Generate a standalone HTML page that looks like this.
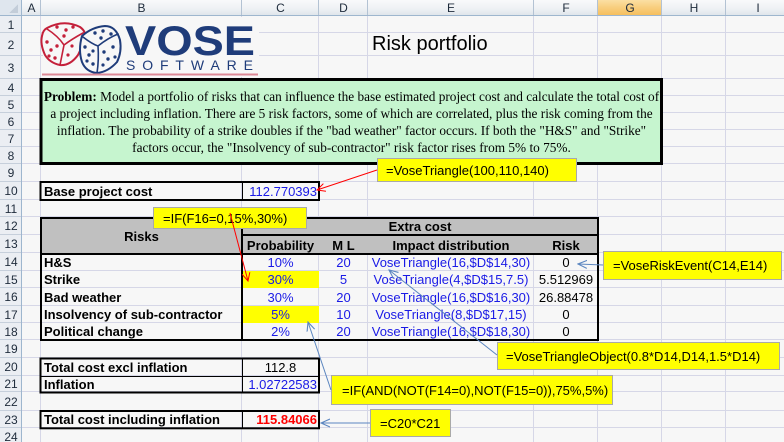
<!DOCTYPE html>
<html><head><meta charset="utf-8">
<style>
*{margin:0;padding:0;box-sizing:border-box}
html,body{width:784px;height:442px;overflow:hidden;background:#f7f7f7}
#s{position:relative;width:784px;height:442px;overflow:hidden;font-family:"Liberation Sans",Arial,sans-serif}
svg{position:absolute;left:0;top:0}
.t{position:absolute;font-size:13px;white-space:nowrap;color:#000;display:flex;align-items:center;line-height:1}
.b{font-weight:bold}
.c{justify-content:center}
.r{justify-content:flex-end}
.bl{color:#1a1ae6}
.h{position:absolute;top:0;height:16px;font-size:12px;color:#1e2b3b;display:flex;align-items:center;justify-content:center}
.rh{position:absolute;left:0;width:22px;font-size:12px;color:#1e2b3b;display:flex;align-items:center;justify-content:center}
.co{position:absolute;background:#ffff00;border:1px solid #a9a9a9;font-size:13px;color:#000;display:flex;align-items:center;white-space:nowrap}
.prob{position:absolute;left:41px;top:88px;width:621px;font-family:"Liberation Serif","Times New Roman",serif;font-size:13.3px;line-height:17px;text-align:center;color:#000;white-space:nowrap}
</style></head><body><div id="s">

<svg width="784" height="442">
<defs>
<linearGradient id="hg" x1="0" y1="0" x2="0" y2="1"><stop offset="0" stop-color="#f9fafb"/><stop offset="0.55" stop-color="#eef1f4"/><stop offset="1" stop-color="#dde4ea"/></linearGradient>
<linearGradient id="og" x1="0" y1="0" x2="0" y2="1"><stop offset="0" stop-color="#fbdfa4"/><stop offset="0.5" stop-color="#f8cd7c"/><stop offset="1" stop-color="#f5bd5a"/></linearGradient>
</defs>
<g shape-rendering="crispEdges">
<rect x="0" y="0" width="784" height="16" fill="url(#hg)"/>
<rect x="598" y="0" width="64" height="16" fill="url(#og)"/>
<rect x="0" y="0" width="22" height="16" fill="#dfe6ee"/>
<polygon points="18,4 18,13 9,13" fill="#c3cdd9"/>
<rect x="0" y="16" width="22" height="426" fill="#ebeef3"/>
<path d="M40.5 0V16M241.5 0V16M318.5 0V16M367.5 0V16M533.5 0V16M597.5 0V16M661.5 0V16M725.5 0V16" stroke="#b3c2d3" stroke-width="1"/>
<path d="M0 15.5H784" stroke="#9eb6ce" stroke-width="1"/>
<path d="M21.5 0V442" stroke="#9eb6ce" stroke-width="1"/>
<path d="M0 32.5H21M0 55.5H21M0 78.5H21M0 95.5H21M0 112.5H21M0 129.5H21M0 146.5H21M0 163.5H21M0 181.5H21M0 199.5H21M0 216.5H21M0 234.5H21M0 252.5H21M0 270.5H21M0 287.5H21M0 305.5H21M0 322.5H21M0 339.5H21M0 357.5H21M0 375.5H21M0 391.5H21M0 410.5H21M0 427.5H21" stroke="#c6cfdb" stroke-width="1"/>
<path d="M22 32.5H784M22 55.5H784M22 78.5H784M22 95.5H784M22 112.5H784M22 129.5H784M22 146.5H784M22 163.5H784M22 181.5H784M22 199.5H784M22 216.5H784M22 234.5H784M22 252.5H784M22 270.5H784M22 287.5H784M22 305.5H784M22 322.5H784M22 339.5H784M22 357.5H784M22 375.5H784M22 391.5H784M22 410.5H784M22 427.5H784" stroke="#d6d7e7" stroke-width="1"/>
<path d="M40.5 16V442M241.5 16V442M318.5 16V442M367.5 16V442M533.5 16V442M597.5 16V442M661.5 16V442M725.5 16V442" stroke="#d6d7e7" stroke-width="1"/>
<!-- logo background -->
<rect x="43" y="17" width="216" height="60" fill="#f7f7f7"/>
<!-- green box -->
<rect x="40" y="79" width="622" height="85" fill="#c6f5cf"/>
<!-- table header gray -->
<rect x="41" y="218" width="557" height="36" fill="#c0c0c0"/>
<!-- yellow cells -->
<rect x="243" y="271" width="76" height="17" fill="#ffff00"/>
<rect x="243" y="306" width="76" height="17" fill="#ffff00"/>
</g>

<!-- borders -->
<g fill="none" stroke="#000">
<rect x="41" y="79.5" width="620.5" height="84" stroke-width="3"/>
<rect x="41" y="218" width="557" height="122" stroke-width="2"/>
<path d="M242 235H598" stroke-width="2"/>
<path d="M41 254H598" stroke-width="2"/>
<path d="M242 218V340" stroke-width="2"/>
<rect x="40.5" y="182" width="278.5" height="18" stroke-width="2"/>
<path d="M242.5 182V200" stroke-width="1"/>
<rect x="40.5" y="358.5" width="278.5" height="34" stroke-width="2"/>
<path d="M41 376.5H319" stroke-width="1"/>
<path d="M242.5 358V392" stroke-width="1"/>
<rect x="40.5" y="411" width="278.5" height="17.3" stroke-width="2"/>
<path d="M242.5 411V428" stroke-width="1"/>
</g>

<!-- logo -->
<g fill="none" stroke-linecap="round" stroke-linejoin="round">
<path d="M47,28 Q64,19 80,27 Q87,32 85,40 L78,55 Q70,66 60,65 Q50,63 45,55 Q40,44 42,36 Q43,30 47,28 Z" stroke="#c4203a" stroke-width="2" fill="#f7f7f7"/>
<path d="M47,29 Q58,36 64,45 M64,45 Q72,39 83,33 M64,45 Q62,55 60,65" stroke="#c4203a" stroke-width="1.6"/>
<g fill="#c4203a" stroke="none">
<circle cx="57" cy="27" r="1.7"/><circle cx="66" cy="30" r="1.7"/><circle cx="73" cy="27" r="1.7"/><circle cx="64" cy="36" r="1.7"/>
<circle cx="47" cy="42" r="1.7"/><circle cx="51" cy="50" r="1.7"/><circle cx="55" cy="58" r="1.7"/><circle cx="57" cy="46" r="1.7"/><circle cx="49" cy="56" r="1.6"/>
<circle cx="72" cy="46" r="1.6"/><circle cx="68" cy="55" r="1.6"/>
</g>
<path d="M82,36 Q92,27 105,26 Q116,26 120,40 Q122,52 117,62 Q108,72 97,73 Q86,72 82,62 Q78,50 82,36 Z" stroke="#1f3c7a" stroke-width="2" fill="#f7f7f7"/>
<path d="M83,37 Q92,44 98,46 M98,46 Q108,38 118,34 M98,46 Q99,60 97,73" stroke="#1f3c7a" stroke-width="1.6"/>
<g fill="#1f3c7a" stroke="none">
<circle cx="95" cy="33" r="1.7"/><circle cx="103" cy="31" r="1.7"/><circle cx="111" cy="34" r="1.7"/><circle cx="101" cy="38" r="1.7"/>
<circle cx="85" cy="47" r="1.7"/><circle cx="89" cy="55" r="1.7"/><circle cx="93" cy="64" r="1.7"/><circle cx="87" cy="61" r="1.6"/><circle cx="93" cy="51" r="1.6"/>
<circle cx="104" cy="52" r="1.7"/><circle cx="113" cy="47" r="1.7"/><circle cx="108" cy="59" r="1.7"/><circle cx="103" cy="65" r="1.6"/><circle cx="115" cy="57" r="1.6"/>
</g>
</g>
<text x="125" y="55" font-family="Liberation Sans, Arial, sans-serif" font-weight="bold" font-size="42" fill="#1f3c7a" textLength="130" lengthAdjust="spacingAndGlyphs">VOSE</text>
<text x="126" y="70" font-family="Liberation Sans, Arial, sans-serif" font-size="14" fill="#1f3c7a" textLength="127" lengthAdjust="spacing">SOFTWARE</text>
<path d="M42 74.5H258" stroke="#dc8996" stroke-width="2"/>
</svg>

<!-- column headers -->
<div class="h" style="left:22px;width:19px">A</div>
<div class="h" style="left:41px;width:201px">B</div>
<div class="h" style="left:242px;width:77px">C</div>
<div class="h" style="left:319px;width:49px">D</div>
<div class="h" style="left:368px;width:166px">E</div>
<div class="h" style="left:534px;width:64px">F</div>
<div class="h" style="left:598px;width:64px">G</div>
<div class="h" style="left:662px;width:64px">H</div>
<div class="h" style="left:726px;width:64px">I</div>

<!-- row headers -->
<div class="rh" style="top:16px;height:17px">1</div>
<div class="rh" style="top:33px;height:23px">2</div>
<div class="rh" style="top:56px;height:23px">3</div>
<div class="rh" style="top:79px;height:17px">4</div>
<div class="rh" style="top:96px;height:17px">5</div>
<div class="rh" style="top:113px;height:17px">6</div>
<div class="rh" style="top:130px;height:17px">7</div>
<div class="rh" style="top:147px;height:17px">8</div>
<div class="rh" style="top:164px;height:18px">9</div>
<div class="rh" style="top:182px;height:18px">10</div>
<div class="rh" style="top:200px;height:17px">11</div>
<div class="rh" style="top:217px;height:18px">12</div>
<div class="rh" style="top:235px;height:18px">13</div>
<div class="rh" style="top:253px;height:18px">14</div>
<div class="rh" style="top:271px;height:17px">15</div>
<div class="rh" style="top:288px;height:18px">16</div>
<div class="rh" style="top:306px;height:17px">17</div>
<div class="rh" style="top:323px;height:17px">18</div>
<div class="rh" style="top:340px;height:18px">19</div>
<div class="rh" style="top:358px;height:18px">20</div>
<div class="rh" style="top:376px;height:16px">21</div>
<div class="rh" style="top:392px;height:19px">22</div>
<div class="rh" style="top:411px;height:17px">23</div>
<div class="rh" style="top:428px;height:18px">24</div>

<!-- title -->
<div class="t" style="left:372px;top:32px;height:23px;font-size:20px">Risk portfolio</div>

<!-- problem text -->
<div class="prob"><b>Problem:</b> Model a portfolio of risks that can influence the base estimated project cost and calculate the total cost of<br>a project including inflation. There are 5 risk factors, some of which are correlated, plus the risk coming from the<br>inflation. The probability of a strike doubles if the "bad weather" factor occurs. If both the "H&amp;S" and "Strike"<br>factors occur, the "Insolvency of sub-contractor" risk factor rises from 5% to 75%.</div>

<!-- row 10 -->
<div class="t b" style="left:44px;top:182px;height:18px">Base project cost</div>
<div class="t r bl" style="left:242px;top:182px;width:75px;height:18px">112.770393</div>

<!-- table header -->
<div class="t b c" style="left:41px;top:218px;width:201px;height:36px">Risks</div>
<div class="t b c" style="left:242px;top:218px;width:356px;height:17px">Extra cost</div>
<div class="t b c" style="left:242px;top:236px;width:77px;height:18px">Probability</div>
<div class="t b c" style="left:319px;top:236px;width:49px;height:18px">M L</div>
<div class="t b c" style="left:368px;top:236px;width:166px;height:18px">Impact distribution</div>
<div class="t b c" style="left:534px;top:236px;width:64px;height:18px">Risk</div>

<!-- rows 14-18 -->
<div class="t b" style="left:44px;top:254px;height:17px">H&amp;S</div>
<div class="t c bl" style="left:242px;top:254px;width:77px;height:17px">10%</div>
<div class="t c bl" style="left:319px;top:254px;width:49px;height:17px">20</div>
<div class="t c bl" style="left:368px;top:254px;width:166px;height:17px">VoseTriangle(16,$D$14,30)</div>
<div class="t c" style="left:534px;top:254px;width:64px;height:17px">0</div>

<div class="t b" style="left:44px;top:271px;height:17px">Strike</div>
<div class="t c bl" style="left:242px;top:271px;width:77px;height:17px">30%</div>
<div class="t c bl" style="left:319px;top:271px;width:49px;height:17px">5</div>
<div class="t c bl" style="left:368px;top:271px;width:166px;height:17px">VoseTriangle(4,$D$15,7.5)</div>
<div class="t c" style="left:534px;top:271px;width:64px;height:17px">5.512969</div>

<div class="t b" style="left:44px;top:288px;height:18px">Bad weather</div>
<div class="t c bl" style="left:242px;top:288px;width:77px;height:18px">30%</div>
<div class="t c bl" style="left:319px;top:288px;width:49px;height:18px">20</div>
<div class="t c bl" style="left:368px;top:288px;width:166px;height:18px">VoseTriangle(16,$D$16,30)</div>
<div class="t c" style="left:534px;top:288px;width:64px;height:18px">26.88478</div>

<div class="t b" style="left:44px;top:306px;height:17px">Insolvency of sub-contractor</div>
<div class="t c bl" style="left:242px;top:306px;width:77px;height:17px">5%</div>
<div class="t c bl" style="left:319px;top:306px;width:49px;height:17px">10</div>
<div class="t c bl" style="left:368px;top:306px;width:166px;height:17px">VoseTriangle(8,$D$17,15)</div>
<div class="t c" style="left:534px;top:306px;width:64px;height:17px">0</div>

<div class="t b" style="left:44px;top:323px;height:17px">Political change</div>
<div class="t c bl" style="left:242px;top:323px;width:77px;height:17px">2%</div>
<div class="t c bl" style="left:319px;top:323px;width:49px;height:17px">20</div>
<div class="t c bl" style="left:368px;top:323px;width:166px;height:17px">VoseTriangle(16,$D$18,30)</div>
<div class="t c" style="left:534px;top:323px;width:64px;height:17px">0</div>

<!-- summary -->
<div class="t b" style="left:44px;top:359px;height:17px">Total cost excl inflation</div>
<div class="t c" style="left:242px;top:359px;width:77px;height:17px">112.8</div>
<div class="t b" style="left:44px;top:376px;height:16px">Inflation</div>
<div class="t r bl" style="left:242px;top:376px;width:75px;height:16px">1.02722583</div>
<div class="t b" style="left:44px;top:411px;height:17px">Total cost including inflation</div>
<div class="t r b" style="left:242px;top:411px;width:75px;height:17px;color:#ff0000">115.84066</div>

<!-- callouts -->
<div class="co" style="left:377px;top:158px;width:200px;height:24px;padding-left:8px">=VoseTriangle(100,110,140)</div>
<div class="co" style="left:153px;top:207px;width:154px;height:22px;padding-left:9px">=IF(F16=0,15%,30%)</div>
<div class="co" style="left:603px;top:251px;width:179px;height:29px;padding-left:9px">=VoseRiskEvent(C14,E14)</div>
<div class="co" style="left:497px;top:342px;width:283px;height:28px;padding-left:8px">=VoseTriangleObject(0.8*D14,D14,1.5*D14)</div>
<div class="co" style="left:331px;top:375px;width:282px;height:30px;padding-left:10px">=IF(AND(NOT(F14=0),NOT(F15=0)),75%,5%)</div>
<div class="co" style="left:370px;top:409px;width:81px;height:28px;padding-left:9px">=C20*C21</div>

<!-- arrows -->
<svg width="784" height="442">
<defs>
<marker id="ar" viewBox="0 0 10 10" refX="9" refY="5" markerWidth="9" markerHeight="9" markerUnits="userSpaceOnUse" orient="auto"><path d="M0,0.5 L9,5 L0,9.5" fill="none" stroke="#ff0000" stroke-width="1.1"/></marker>
<marker id="ab" viewBox="0 0 10 10" refX="9" refY="5" markerWidth="10" markerHeight="10" markerUnits="userSpaceOnUse" orient="auto"><path d="M0,1 L9,5 L0,9" fill="none" stroke="#5b86c0" stroke-width="1.1"/></marker>
</defs>
<line x1="377" y1="170" x2="317" y2="190" stroke="#ff0000" stroke-width="1" marker-end="url(#ar)"/>
<line x1="230" y1="213" x2="248" y2="281" stroke="#ff0000" stroke-width="1" marker-end="url(#ar)"/>
<line x1="603" y1="265" x2="578" y2="264" stroke="#5b86c0" stroke-width="1" marker-end="url(#ab)"/>
<line x1="497" y1="355" x2="389" y2="270" stroke="#5b86c0" stroke-width="1" marker-end="url(#ab)"/>
<line x1="331" y1="390" x2="308" y2="322" stroke="#5b86c0" stroke-width="1" marker-end="url(#ab)"/>
<line x1="370" y1="423" x2="321" y2="423" stroke="#5b86c0" stroke-width="1" marker-end="url(#ab)"/>
</svg>

</div></body></html>
